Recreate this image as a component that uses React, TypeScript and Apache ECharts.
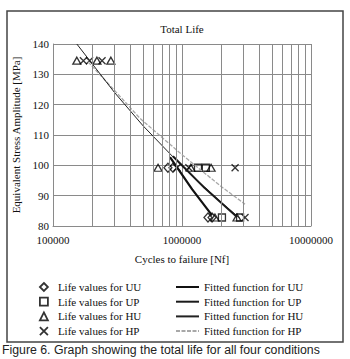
import React, { useEffect, useRef } from "react";
import * as echarts from "echarts";

// ---- data ----
const uuLifeN = [778000, 851000, 1590000, 1710000];
const uuLifeS = [99.2, 99.2, 82.8, 82.8];
const upLifeN = [1330000, 1530000, 2040000, 2820000];
const upLifeS = [99.2, 99.2, 82.8, 82.8];
const huLifeN = [153000, 219000, 281000, 652000, 1170000, 1680000, 1800000, 2670000];
const huLifeS = [134.5, 134.5, 134.5, 99.2, 99.2, 99.2, 82.8, 82.8];
const hpLifeN = [172000, 192000, 240000, 914000, 1130000, 2580000, 3080000];
const hpLifeS = [134.5, 134.5, 134.5, 99.2, 99.2, 99.2, 82.8];

const uuFitN = [807000, 1200000, 1710000];
const uuFitS = [102.7, 92.1, 83.5];
const upFitN = [851000, 1500000, 2670000];
const upFitS = [103.0, 92.5, 83.0];
const huFitN = [153000, 300000, 500000, 1000000, 2000000, 2800000];
const huFitS = [140, 124, 113, 99.7, 87.9, 82.6];
const hpFitN = [187000, 300000, 472000, 1000000, 2000000, 3080000];
const hpFitS = [134.1, 124.7, 115.5, 103.5, 93.1, 87.2];

const minorGridN = [
  200000, 300000, 400000, 500000, 600000, 700000, 800000, 900000,
  2000000, 3000000, 4000000, 5000000, 6000000, 7000000, 8000000, 9000000,
];

const lifeNames = ["Life values for UU", "Life values for UP", "Life values for HU", "Life values for HP"];
const fitNames = ["Fitted function for UU", "Fitted function for UP", "Fitted function for HU", "Fitted function for HP"];

const pairs = (xs: number[], ys: number[]) => xs.map((x, i) => [x, ys[i]]);

const SERIF = "'Liberation Serif', 'Times New Roman', serif";
const SANS = "'Liberation Sans', Arial, sans-serif";
const GRID = "#8a8a8a";

export default function App() {
  const ref = useRef<HTMLDivElement>(null);
  useEffect(() => {
    if (!ref.current) return;
    const chart = echarts.init(ref.current, undefined, { renderer: "svg" });
    const markerStyle = { color: "transparent", borderColor: "#000", borderWidth: 1.3 };
    const legendText = { fontFamily: SERIF, fontSize: 11, color: "#111", lineHeight: 12 };
    const option: any = {
      animation: false,
      backgroundColor: "#fff",
      textStyle: { fontFamily: SERIF },
      title: {
        text: "Total Life",
        left: 177,
        top: 18,
        textAlign: "center",
        textStyle: { fontFamily: SERIF, fontSize: 11, fontWeight: "normal", color: "#111" },
      },
      grid: { left: 53, top: 44, width: 258, height: 182, containLabel: false },
      xAxis: {
        type: "log",
        logBase: 10,
        min: 100000,
        max: 10000000,
        name: "Cycles to failure [Nf]",
        nameLocation: "middle",
        nameGap: 27,
        nameTextStyle: { fontFamily: SERIF, fontSize: 11, color: "#111" },
        axisLine: { show: true, lineStyle: { color: GRID, width: 1 } },
        axisTick: { show: false },
        axisLabel: {
          fontFamily: SERIF,
          fontSize: 11,
          color: "#111",
          margin: 8,
          formatter: (v: number) => String(Math.round(v)),
        },
        splitLine: { show: true, lineStyle: { color: GRID, width: 1 } },
      },
      yAxis: {
        type: "value",
        min: 80,
        max: 140,
        interval: 10,
        name: "Equivalent Stress Amplitude [MPa]",
        nameLocation: "middle",
        nameGap: 27,
        nameTextStyle: { fontFamily: SERIF, fontSize: 11, color: "#111" },
        axisLine: { show: true, lineStyle: { color: GRID, width: 1 } },
        axisTick: { show: false },
        axisLabel: { fontFamily: SERIF, fontSize: 11, color: "#111", margin: 4 },
        splitLine: { show: true, lineStyle: { color: GRID, width: 1 } },
      },
      legend: [
        {
          data: lifeNames,
          orient: "vertical",
          left: 34,
          top: 276,
          itemWidth: 8,
          itemHeight: 8,
          itemGap: 2.7,
          itemStyle: { borderWidth: 1.8 },
          textStyle: { ...legendText, padding: [0, 0, 0, 5] },
        },
        {
          data: fitNames,
          orient: "vertical",
          left: 170,
          top: 276,
          itemWidth: 23,
          itemHeight: 8,
          itemGap: 2.7,
          itemStyle: { opacity: 0 },
          textStyle: { ...legendText },
        },
      ],
      graphic: [
        {
          type: "rect",
          shape: { x: 7, y: 11, width: 336, height: 331 },
          style: { fill: "none", stroke: "#444", lineWidth: 1.5 },
          silent: true,
        },
        {
          type: "text",
          x: 2,
          y: 344,
          style: {
            text: "Figure 6. Graph showing the total life for all four conditions",
            font: `12.3px ${SANS}`,
            fill: "#222",
          },
          silent: true,
        },
      ],
      series: [
        {
          type: "line",
          data: [],
          silent: true,
          markLine: {
            silent: true,
            symbol: ["none", "none"],
            label: { show: false },
            lineStyle: { color: GRID, type: "solid", width: 1 },
            data: minorGridN.map((v) => ({ xAxis: v })),
          },
        },
        {
          name: fitNames[3],
          type: "line",
          data: pairs(hpFitN, hpFitS),
          symbol: "none",
          lineStyle: { color: "#a8a8a8", width: 1.3, type: [4, 1.5] },
          itemStyle: { color: "#a8a8a8" },
        },
        {
          name: fitNames[2],
          type: "line",
          data: pairs(huFitN, huFitS),
          symbol: "none",
          lineStyle: { color: "#222", width: 1 },
          itemStyle: { color: "#222" },
        },
        {
          name: fitNames[1],
          type: "line",
          data: pairs(upFitN, upFitS),
          symbol: "none",
          lineStyle: { color: "#1a1a1a", width: 2 },
          itemStyle: { color: "#1a1a1a" },
        },
        {
          name: fitNames[0],
          type: "line",
          data: pairs(uuFitN, uuFitS),
          symbol: "none",
          lineStyle: { color: "#111", width: 2.2 },
          itemStyle: { color: "#111" },
        },
        {
          name: lifeNames[0],
          type: "scatter",
          data: pairs(uuLifeN, uuLifeS),
          symbol: "diamond",
          symbolSize: [8, 9],
          itemStyle: markerStyle,
        },
        {
          name: lifeNames[1],
          type: "scatter",
          data: pairs(upLifeN, upLifeS),
          symbol: "rect",
          symbolSize: 7,
          itemStyle: markerStyle,
        },
        {
          name: lifeNames[2],
          type: "scatter",
          data: pairs(huLifeN, huLifeS),
          symbol: "triangle",
          symbolSize: [8, 7],
          itemStyle: markerStyle,
        },
        {
          name: lifeNames[3],
          type: "scatter",
          data: pairs(hpLifeN, hpLifeS),
          symbol: "path://M0,0L10,10M10,0L0,10",
          symbolSize: 7,
          itemStyle: markerStyle,
        },
      ],
    };
    chart.setOption(option);
    return () => chart.dispose();
  }, []);
  return (
    <div
      ref={ref}
      style={{ position: "fixed", left: 0, top: 0, width: 350, height: 359, background: "#fff" }}
    />
  );
}
